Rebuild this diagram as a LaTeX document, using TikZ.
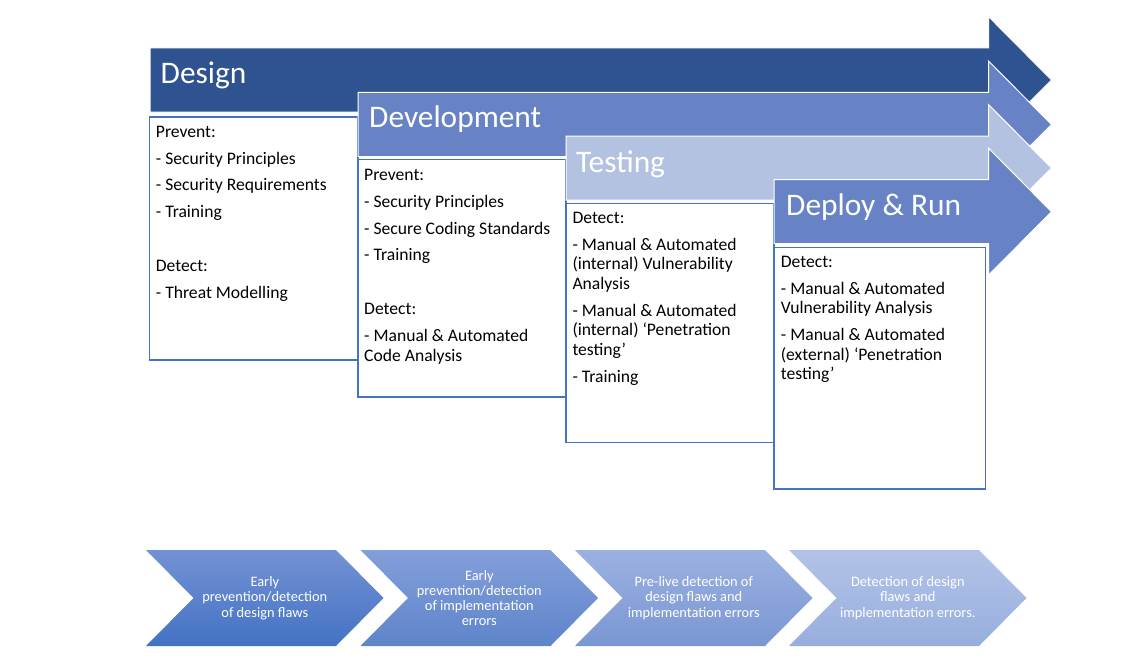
\documentclass[tikz,border=0pt]{standalone}
\usepackage{fontspec}
\setmainfont{Carlito}
\definecolor{cdesign}{HTML}{2F5290}
\definecolor{cdev}{HTML}{6783C6}
\definecolor{ctest}{HTML}{B4C2E2}
\definecolor{boxblue}{HTML}{4472C4}
\definecolor{chAt}{HTML}{7392D4}
\definecolor{chAb}{HTML}{4472C4}
\definecolor{chBt}{HTML}{839FDA}
\definecolor{chBb}{HTML}{5E84CA}
\definecolor{chCt}{HTML}{9BB1E0}
\definecolor{chCb}{HTML}{7A97D3}
\definecolor{chDt}{HTML}{B2C3E8}
\definecolor{chDb}{HTML}{97AEDD}
\tikzset{
  phasearrow/.style={draw=white, line width=1pt},
  phasebox/.style={draw=boxblue, fill=white, line width=1.6pt},
  phasetitle/.style={anchor=base west, inner sep=0pt, text=white, font=\fontsize{31.4}{36}\selectfont},
  boxtext/.style={anchor=north west, inner sep=0pt, align=left, font=\fontsize{17.6}{19.7}\selectfont},
  chevtext/.style={align=center, text=white, inner sep=0pt, font=\fontsize{14.4}{15.3}\selectfont},
}
\begin{document}
\begin{tikzpicture}[x=1pt,y=-1pt]
\useasboundingbox (0,0) rectangle (1141,661);
% Design
\filldraw[phasearrow, fill=cdesign] (150,48) -- (988.5,48) -- (988.5,16.5) -- (1051.5,80) -- (988.5,143.5) -- (988.5,112) -- (150,112) -- cycle;
\node[phasetitle] (tdesign) at (160.5,84) {Design};
\draw[phasebox] (149.5,117) rectangle (358,360);
\node[boxtext] (xdesign) at (155.7,123.5) {\strut Prevent:\\[7pt]- Security Principles\\[7pt]- Security Requirements\\[7pt]- Training\\[34.3pt]Detect:\\[7pt]- Threat Modelling};
% Development
\filldraw[phasearrow, fill=cdev] (358,92.5) -- (988.5,92.5) -- (988.5,61) -- (1051.5,124.5) -- (988.5,188) -- (988.5,156.5) -- (358,156.5) -- cycle;
\node[phasetitle] (tdev) at (369,127.3) {Development};
\draw[phasebox] (358,159.3) rectangle (566,396.7);
\node[boxtext] (xdev) at (364,166.9) {\strut Prevent:\\[7pt]- Security Principles\\[7pt]- Secure Coding Standards\\[7pt]- Training\\[34.3pt]Detect:\\[7pt]- Manual \& Automated\\Code Analysis};
% Testing
\filldraw[phasearrow, fill=ctest] (566,136) -- (988.5,136) -- (988.5,104.5) -- (1051.5,168) -- (988.5,231.5) -- (988.5,200) -- (566,200) -- cycle;
\node[phasetitle] (ttest) at (576,172.3) {Testing};
\draw[phasebox] (566,203.3) rectangle (774,442.5);
\node[boxtext] (xtest) at (572.3,209.5) {\strut Detect:\\[7pt]- Manual \& Automated\\(internal) Vulnerability\\Analysis\\[7pt]- Manual \& Automated\\(internal) ‘Penetration\\testing’\\[7pt]- Training};
% Deploy & Run
\filldraw[phasearrow, fill=cdev] (774,179.7) -- (988.5,179.7) -- (988.5,148.2) -- (1051.5,211.7) -- (988.5,275.2) -- (988.5,243.7) -- (774,243.7) -- cycle;
\node[phasetitle] (tdeploy) at (786,215.7) {Deploy \& Run};
\draw[phasebox] (774,247.3) rectangle (985.3,489);
\node[boxtext] (xdeploy) at (780.7,253.5) {\strut Detect:\\[7pt]- Manual \& Automated\\Vulnerability Analysis\\[7pt]- Manual \& Automated\\(external) ‘Penetration\\testing’};
% Chevrons
\shade[top color=chAt, bottom color=chAb] (146,550) -- (336,550) -- (383.5,598) -- (336,646) -- (146,646) -- (193.5,598) -- cycle;
\shade[top color=chBt, bottom color=chBb] (360.5,550) -- (550.5,550) -- (598,598) -- (550.5,646) -- (360.5,646) -- (408,598) -- cycle;
\shade[top color=chCt, bottom color=chCb] (575,550) -- (765,550) -- (812.5,598) -- (765,646) -- (575,646) -- (622.5,598) -- cycle;
\shade[top color=chDt, bottom color=chDb] (789,550) -- (979,550) -- (1026.5,598) -- (979,646) -- (789,646) -- (836.5,598) -- cycle;
\node[chevtext] (c1) at (264.8,598) {Early\\prevention/detection\\of design flaws};
\node[chevtext] (c2) at (479.3,598) {Early\\prevention/detection\\of implementation\\errors};
\node[chevtext] (c3) at (693.8,598) {Pre-live detection of\\design flaws and\\implementation errors};
\node[chevtext] (c4) at (907.8,598) {Detection of design\\flaws and\\implementation errors.};
\end{tikzpicture}
\end{document}
